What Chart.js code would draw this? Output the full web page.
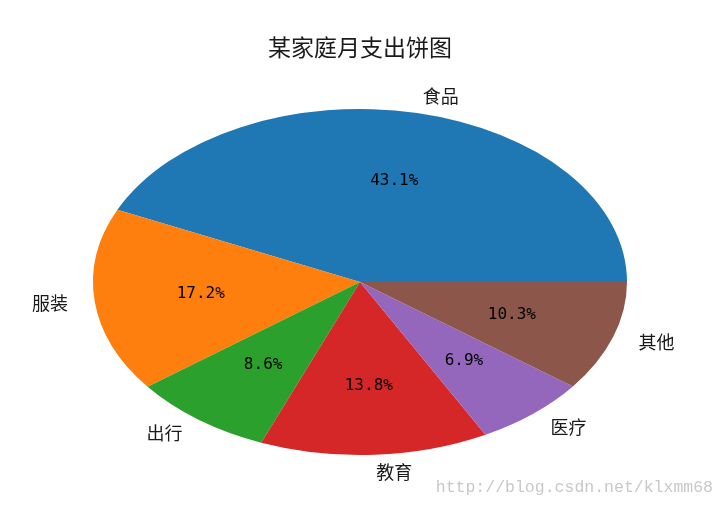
<html>
<head>
  <meta charset="utf-8">
  <title>某家庭月支出饼图</title>
  <script src="https://cdn.jsdelivr.net/npm/chart.js@4.4.1/dist/chart.umd.min.js"></script>
</head>
<body style="margin: 0; background: #ffffff">

  <div style="width: 724px; height: 508px">
    <canvas id="myChart" width="724" height="508"></canvas>
  </div>

<script>

const categories = ['食品', '服装', '出行', '教育', '医疗', '其他'];
const shares = [43.1, 17.2, 8.6, 13.8, 6.9, 10.3];
const pctLabels = ['43.1%', '17.2%', '8.6%', '13.8%', '6.9%', '10.3%'];
const colors = ['#1f77b4', '#ff7f0e', '#2ca02c', '#d62728', '#9467bd', '#8c564b'];

// the pie is stretched into an ellipse like matplotlib does without axis('equal')
const stretchX = 267 / 173;

// flip y so slices run counter clockwise from 3 o'clock
const ellipsePlugin = {
  id: 'ellipse',
  beforeDatasetsDraw(chart) {
    const arc = chart.getDatasetMeta(0).data[0];
    const ctx = chart.ctx;
    ctx.save();
    ctx.translate(arc.x, arc.y);
    ctx.scale(stretchX, -1);
    ctx.translate(-arc.x, -arc.y);
  },
  afterDatasetsDraw(chart) {
    const ctx = chart.ctx;
    ctx.restore();

    const meta = chart.getDatasetMeta(0);
    meta.data.forEach((arc, i) => {
      const mid = (arc.startAngle + arc.endAngle) / 2;
      const r = arc.outerRadius;
      const c = Math.cos(mid), s = Math.sin(mid);

      // outer name at 1.1 radius
      ctx.font = '18px "Noto Sans CJK SC"';
      ctx.fillStyle = '#1a1a1a';
      ctx.textBaseline = 'middle';
      ctx.textAlign = c >= 0 ? 'left' : 'right';
      ctx.fillText(categories[i], arc.x + 1.1 * r * stretchX * c, arc.y - 1.1 * r * s);

      // percent at 0.6 radius
      ctx.font = '16px "DejaVu Sans Mono"';
      ctx.fillStyle = '#000000';
      ctx.textAlign = 'center';
      ctx.fillText(pctLabels[i], arc.x + 0.6 * r * stretchX * c, arc.y - 0.6 * r * s);
    });
  },
  afterDraw(chart) {
    const ctx = chart.ctx;
    ctx.save();
    ctx.font = '16.5px "Liberation Mono"';
    ctx.fillStyle = '#c8c8c8';
    ctx.textAlign = 'right';
    ctx.textBaseline = 'middle';
    ctx.fillText('http://blog.csdn.net/klxmm68', 713, 488);
    ctx.restore();
  }
};

const data = {
  labels: categories,
  datasets: [{
    data: shares,
    backgroundColor: colors,
    borderWidth: 0,
  }]
};

const config = {
  type: 'pie',
  data,
  options: {
    responsive: false,
    animation: false,
    rotation: 90,
    layout: {
      padding: { top: 0, bottom: 53, left: 0, right: 4 }
    },
    plugins: {
      legend: { display: false },
      tooltip: { enabled: false },
      title: {
        display: true,
        text: '某家庭月支出饼图',
        color: '#1a1a1a',
        font: { family: '"Noto Sans CJK SC"', size: 23, weight: 'normal', lineHeight: 1.2 },
        padding: { top: 33, bottom: 48.4 }
      }
    }
  },
  plugins: [ellipsePlugin]
};

var myChart = new Chart(
  document.getElementById('myChart'),
  config
);

</script>

</body>
</html>
